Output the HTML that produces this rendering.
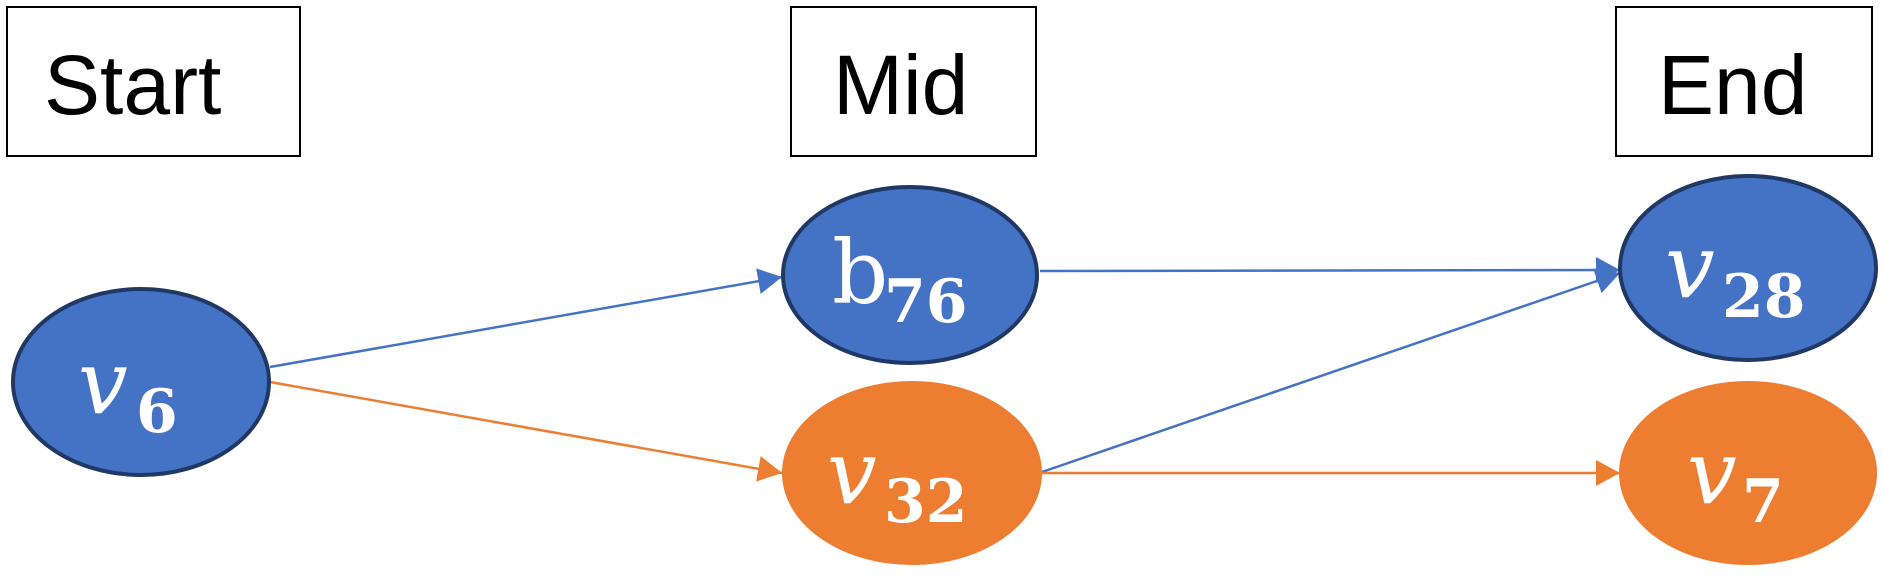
<!DOCTYPE html>
<html><head><meta charset="utf-8"><style>
html,body{margin:0;padding:0;background:#fff;width:1883px;height:575px;overflow:hidden}
</style></head><body>
<svg width="1883" height="575" viewBox="0 0 1883 575" xmlns="http://www.w3.org/2000/svg">
<defs>
<marker id="ab" markerWidth="24" markerHeight="26" refX="24" refY="13" orient="auto" markerUnits="userSpaceOnUse" viewBox="0 0 24 26"><path d="M0,0 L24,13 L0,26 z" fill="#4472c4"/></marker>
<marker id="ao" markerWidth="24" markerHeight="26" refX="24" refY="13" orient="auto" markerUnits="userSpaceOnUse" viewBox="0 0 24 26"><path d="M0,0 L24,13 L0,26 z" fill="#ed7d31"/></marker>
</defs>
<g fill="#fff" stroke="#000" stroke-width="2">
<rect x="7" y="7" width="293" height="149"/>
<rect x="791" y="7" width="245" height="149"/>
<rect x="1616" y="7" width="256" height="149"/>
</g>
<g font-family="Liberation Sans, sans-serif" font-size="84" fill="#000">
<text x="44" y="114">Start</text>
<text x="833" y="114">Mid</text>
<text x="1658" y="114">End</text>
</g>
<g stroke-width="2.5" fill="none">
<line x1="270" y1="367" x2="782" y2="277" stroke="#4472c4" marker-end="url(#ab)"/>
<line x1="270" y1="382" x2="782" y2="473" stroke="#ed7d31" marker-end="url(#ao)"/>
<line x1="1040" y1="271" x2="1620" y2="270" stroke="#4472c4" marker-end="url(#ab)"/>
<line x1="1042" y1="472" x2="1620" y2="273" stroke="#4472c4" marker-end="url(#ab)"/>
<line x1="1042" y1="473" x2="1620" y2="473" stroke="#ed7d31" marker-end="url(#ao)"/>
</g>
<g>
<ellipse cx="141" cy="382" rx="128" ry="93" fill="#4472c4" stroke="#1f3864" stroke-width="4"/>
<ellipse cx="910" cy="275" rx="127" ry="88" fill="#4472c4" stroke="#1f3864" stroke-width="4"/>
<ellipse cx="1748" cy="268" rx="128" ry="92" fill="#4472c4" stroke="#1f3864" stroke-width="4"/>
<ellipse cx="912" cy="473" rx="130" ry="92" fill="#ed7d31"/>
<ellipse cx="1748" cy="473" rx="129" ry="92" fill="#ed7d31"/>
</g>
<g font-family="DejaVu Serif, Liberation Serif, serif" fill="#fff">
<text x="78" y="413" font-size="88" font-style="italic">v</text><text x="136" y="432" font-size="60" font-weight="bold">6</text>
<text x="832" y="303" font-size="88">b</text><text x="884" y="322" font-size="60" font-weight="bold">76</text>
<text x="1665" y="297" font-size="88" font-style="italic">v</text><text x="1722" y="317" font-size="60" font-weight="bold">28</text>
<text x="827" y="503" font-size="88" font-style="italic">v</text><text x="884" y="522" font-size="60" font-weight="bold">32</text>
<text x="1687" y="503" font-size="88" font-style="italic">v</text><text x="1742" y="522" font-size="60" font-weight="bold">7</text>
</g>
</svg>
</body></html>
